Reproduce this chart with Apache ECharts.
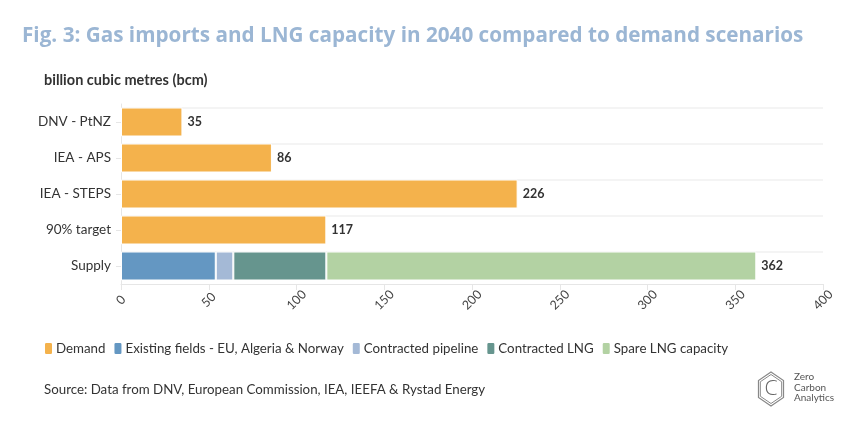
<!DOCTYPE html>
<html>
<head>
<meta charset="utf-8">
<script src="https://cdn.jsdelivr.net/npm/echarts@6/dist/echarts.min.js"></script>
<style>
html,body{margin:0;padding:0;background:#fff;}
#chart{width:868px;height:426px;}
</style>
</head>
<body>
<div id="chart"></div>
<script>
var categories = ['DNV - PtNZ', 'IEA - APS', 'IEA - STEPS', '90% target', 'Supply'];
var demand = [35, 86, 226, 117, null];
var existingFields = [null, null, null, null, 54];
var contractedPipeline = [null, null, null, null, 10];
var contractedLNG = [null, null, null, null, 53];
var spareLNG = [null, null, null, null, 245];
var supplyTotal = 362;
var xTicks = [0, 50, 100, 150, 200, 250, 300, 350, 400];
var gridLineValues = [400, 400, 400, 400, 400];

var C_DEMAND = '#f4b24c', C_EXIST = '#6497c2', C_PIPE = '#a4b9d6', C_LNG = '#66958e', C_SPARE = '#b3d2a3';
var FONT = 'Lato';

var chart = echarts.init(document.getElementById('chart'), null, {renderer: 'canvas'});
var catY = categories.slice().reverse();
function rev(a){ return a.slice().reverse(); }

var barCommon = {type: 'bar', barWidth: 29, barGap: '-100%', itemStyle: {borderColor: '#fff', borderWidth: 1}};
var valLabel = {show: true, position: 'right', distance: 5, color: '#333', fontWeight: 'bold', fontSize: 12.5, fontFamily: FONT};

function hex(cx, cy, r){
  var pts = [];
  for (var i = 0; i < 6; i++) {
    var a = Math.PI / 180 * (60 * i - 90);
    pts.push([cx + r * Math.cos(a) * 0.85, cy + r * Math.sin(a)]);
  }
  return pts;
}

var option = {
  animation: false,
  title: [
    {text: 'Fig. 3: Gas imports and LNG capacity in 2040 compared to demand scenarios', left: 17, top: 21,
     textStyle: {color: '#9bb6d4', fontSize: 20.7, fontWeight: 'bold', fontFamily: 'Open Sans'}},
    {text: 'billion cubic metres (bcm)', left: 39, top: 68,
     textStyle: {color: '#333', fontSize: 14.5, fontWeight: 'bold', fontFamily: FONT}},
    {text: 'Source: Data from DNV, European Commission, IEA, IEEFA & Rystad Energy', left: 39, top: 378,
     textStyle: {color: '#333', fontSize: 13.3, fontWeight: 'normal', fontFamily: FONT}}
  ],
  legend: {
    left: 38, top: 336, itemWidth: 9, itemHeight: 13, itemGap: 7, icon: 'roundRect',
    textStyle: {color: '#333', fontSize: 13.3, fontFamily: FONT, padding: [0, 0, 0, -2]},
    data: ['Demand', 'Existing fields - EU, Algeria & Norway', 'Contracted pipeline', 'Contracted LNG', 'Spare LNG capacity']
  },
  grid: {left: 121, right: 45, top: 104, bottom: 142, containLabel: false},
  xAxis: {
    type: 'value', min: 0, max: 400, interval: 50,
    axisLine: {show: true, lineStyle: {color: '#e6e6e6'}},
    axisTick: {show: true, length: 6, lineStyle: {color: '#e6e6e6'}},
    splitLine: {show: false},
    axisLabel: {rotate: 45, align: 'center', verticalAlign: 'middle', color: '#444', fontSize: 12.5, fontFamily: FONT, margin: 16}
  },
  yAxis: {
    type: 'category', data: catY,
    axisLine: {show: true, lineStyle: {color: '#e6e6e6'}},
    axisTick: {show: true, alignWithLabel: true, length: 5, lineStyle: {color: '#e6e6e6'}},
    axisLabel: {color: '#333', fontSize: 13.5, fontFamily: FONT, margin: 10}
  },
  series: [
    {name: 'grid', type: 'bar', data: rev(gridLineValues), barWidth: 1, barGap: '-100%', silent: true, z: 1,
     itemStyle: {color: '#e9e9e9'}, stack: 'g', legendHoverLink: false},
    Object.assign({}, barCommon, {name: 'Demand', data: rev(demand), stack: 'd', color: C_DEMAND, z: 3, label: valLabel}),
    Object.assign({}, barCommon, {name: 'Existing fields - EU, Algeria & Norway', data: rev(existingFields), stack: 's', color: C_EXIST, z: 3}),
    Object.assign({}, barCommon, {name: 'Contracted pipeline', data: rev(contractedPipeline), stack: 's', color: C_PIPE, z: 3}),
    Object.assign({}, barCommon, {name: 'Contracted LNG', data: rev(contractedLNG), stack: 's', color: C_LNG, z: 3}),
    Object.assign({}, barCommon, {name: 'Spare LNG capacity', data: rev(spareLNG), stack: 's', color: C_SPARE, z: 3,
      label: Object.assign({}, valLabel, {formatter: function(){ return String(supplyTotal); }})})
  ],
  graphic: [
    {type: 'polygon', shape: {points: hex(771, 389, 17)}, style: {fill: 'none', stroke: '#888', lineWidth: 1.2}},
    {type: 'polygon', shape: {points: hex(771, 389, 14.5)}, style: {fill: 'none', stroke: '#888', lineWidth: 1}},
    {type: 'text', x: 771, y: 389, style: {text: 'C', fill: '#666', font: '300 21px "Open Sans"', align: 'center', verticalAlign: 'middle'}},
    {type: 'text', x: 794, y: 372, style: {text: 'Zero\nCarbon\nAnalytics', fill: '#555', font: '10px ' + FONT, lineHeight: 10.5}}
  ]
};
chart.setOption(option);
</script>
</body>
</html>
